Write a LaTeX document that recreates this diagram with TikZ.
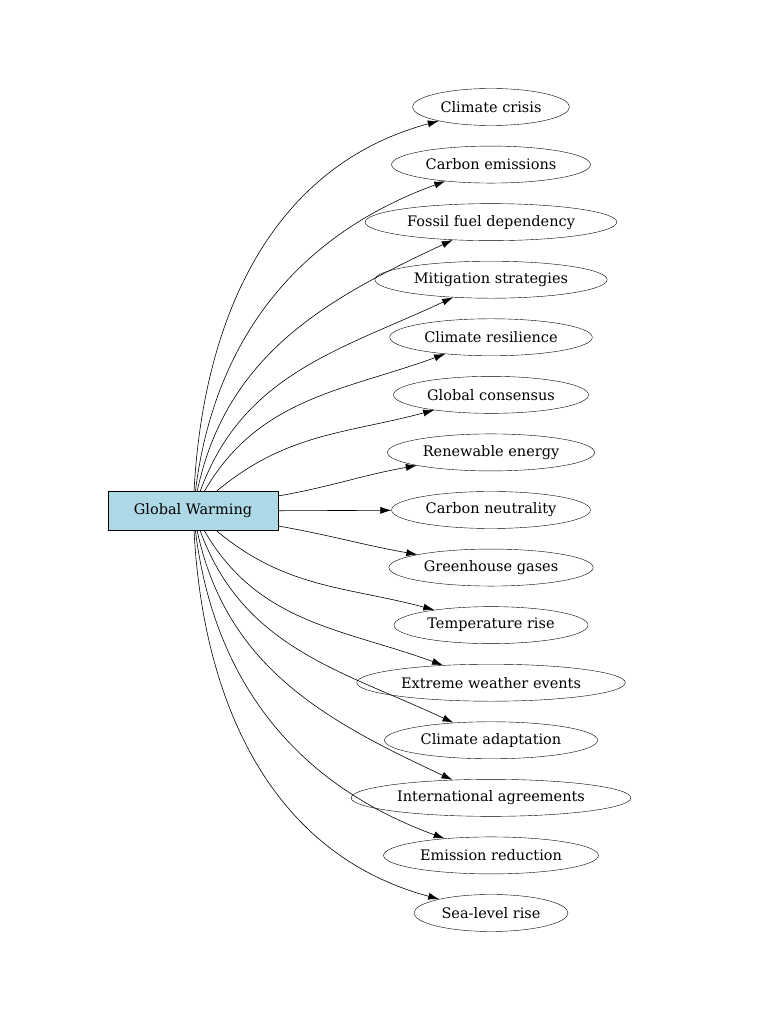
\documentclass[tikz,border=0pt]{standalone}
\usepackage{fontspec}
\setmainfont{DejaVu Serif}
\usepackage{tikz}
\usetikzlibrary{positioning, arrows.meta, shapes.geometric}

\begin{document}
\begin{tikzpicture}[
            x=1pt, y=-1pt,
            font=\fontsize{14.5}{17}\selectfont,
            >={Latex[length=11pt, width=7pt]},
            root/.style={rectangle, draw, minimum width=170pt, minimum height=39pt, inner sep=2pt},
            topic/.style={ellipse, draw, minimum height=37pt, inner xsep=5pt, inner ysep=1pt},
            arrow/.style={->, semithick}
        ]
        \useasboundingbox (0,0) rectangle (768,1024);
        \node[root, fill={rgb,255:red,173;green,216;blue,230}] (gw) at (193,511) {Global Warming};
        \foreach \name/\txt [count=\i] in {
            crisis/Climate crisis,
            carbon/Carbon emissions,
            fossil/Fossil fuel dependency,
            mitig/Mitigation strategies,
            resil/Climate resilience,
            consensus/Global consensus,
            renew/Renewable energy,
            neutral/Carbon neutrality,
            ghg/Greenhouse gases,
            temp/Temperature rise,
            extreme/Extreme weather events,
            adapt/Climate adaptation,
            intl/International agreements,
            emission/Emission reduction,
            sea/Sea-level rise}
        {
            \node[topic] (\name) at (491,{107+57.57*(\i-1)}) {\txt};
        }
        % edges, upper half
        \draw[arrow] (gw) to[out=87, in=195] (crisis);
        \draw[arrow] (gw) to[out=83, in=200] (carbon);
        \draw[arrow] (gw) to[out=78, in=205] (fossil);
        \draw[arrow] (gw) to[out=70, in=205] (mitig);
        \draw[arrow] (gw) to[out=60, in=200] (resil);
        \draw[arrow] (gw) to[out=40, in=195] (consensus);
        \draw[arrow] (gw) to[out=10, in=190] (renew);
        \draw[arrow] (gw) -- (neutral);
        % edges, lower half
        \draw[arrow] (gw) to[out=-10, in=170] (ghg);
        \draw[arrow] (gw) to[out=-40, in=165] (temp);
        \draw[arrow] (gw) to[out=-60, in=160] (extreme);
        \draw[arrow] (gw) to[out=-70, in=155] (adapt);
        \draw[arrow] (gw) to[out=-78, in=155] (intl);
        \draw[arrow] (gw) to[out=-83, in=160] (emission);
        \draw[arrow] (gw) to[out=-87, in=165] (sea);
\end{tikzpicture}
\end{document}
